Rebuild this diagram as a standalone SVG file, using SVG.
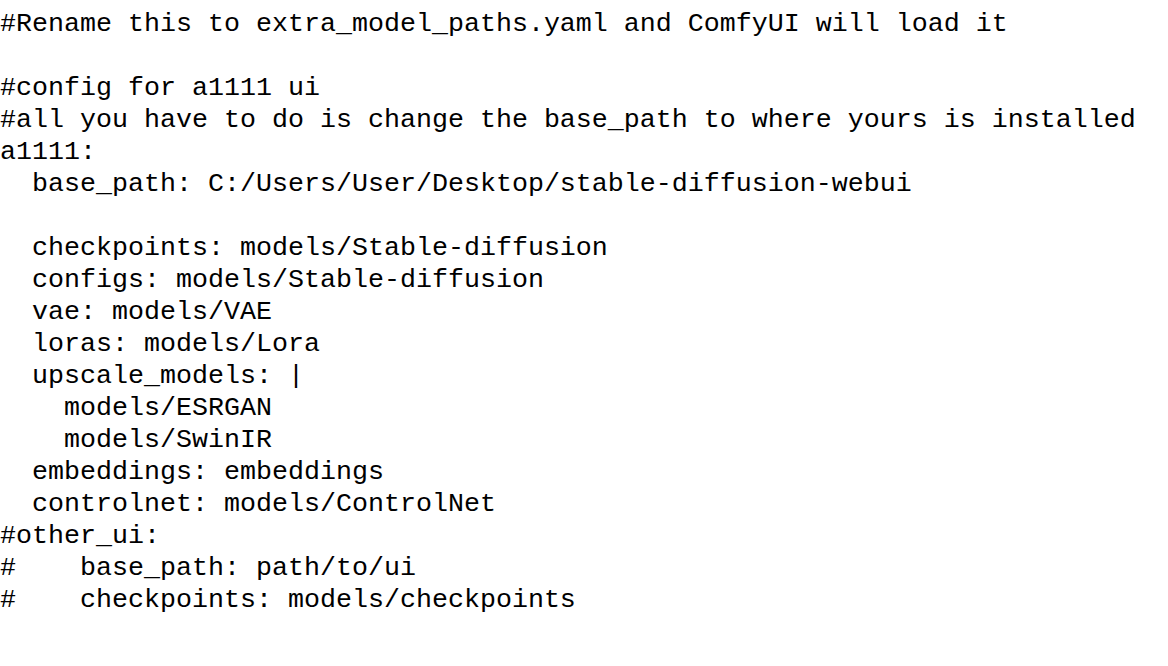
<svg xmlns="http://www.w3.org/2000/svg" width="1168" height="666" viewBox="0 0 1168 666">
<style>text{font-family:"Liberation Mono","Noto Sans CJK TC",monospace;font-size:26.67px;fill:#000;white-space:pre}</style>
<rect width="1168" height="666" fill="#fff"/>
<g id="code" xml:space="preserve">
<text x="0" y="31">#Rename this to extra_model_paths.yaml and ComfyUI will load it</text>
<text x="0" y="95">#config for a1111 ui</text>
<text x="0" y="127">#all you have to do is change the base_path to where yours is installed</text>
<text x="0" y="159">a1111:</text>
<text x="0" y="191">  base_path: C:/Users/User/Desktop/stable-diffusion-webui</text>
<text x="0" y="255">  checkpoints: models/Stable-diffusion</text>
<text x="0" y="287">  configs: models/Stable-diffusion</text>
<text x="0" y="319">  vae: models/VAE</text>
<text x="0" y="351">  loras: models/Lora</text>
<text x="0" y="383">  upscale_models: |</text>
<text x="0" y="415">    models/ESRGAN</text>
<text x="0" y="447">    models/SwinIR</text>
<text x="0" y="479">  embeddings: embeddings</text>
<text x="0" y="511">  controlnet: models/ControlNet</text>
<text x="0" y="543">#other_ui:</text>
<text x="0" y="575">#    base_path: path/to/ui</text>
<text x="0" y="607">#    checkpoints: models/checkpoints</text>
</g>
</svg>
